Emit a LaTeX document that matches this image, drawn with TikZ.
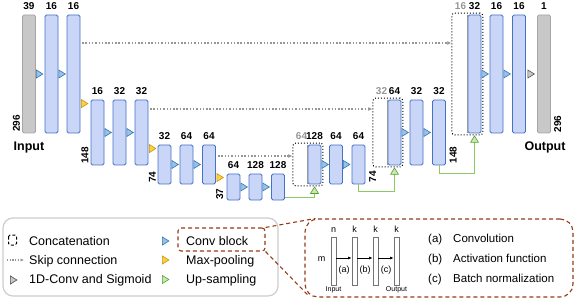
\documentclass[tikz,border=0pt]{standalone}
\usepackage{fontspec}
\setmainfont{Liberation Sans}
\usetikzlibrary{arrows.meta,fit,calc}
\definecolor{barfill}{RGB}{201,214,248}
\definecolor{barline}{RGB}{68,114,196}
\definecolor{grayfill}{RGB}{200,200,200}
\definecolor{grayline}{RGB}{165,165,165}
\definecolor{ctfill}{RGB}{155,194,230}
\definecolor{ctline}{RGB}{46,117,182}
\definecolor{ytfill}{RGB}{255,205,70}
\definecolor{ytline}{RGB}{200,150,0}
\definecolor{gtfill}{RGB}{200,232,175}
\definecolor{gtline}{RGB}{84,160,50}
\definecolor{gline}{RGB}{140,200,100}
\definecolor{skipc}{RGB}{150,150,150}
\definecolor{brownc}{RGB}{150,58,25}
\definecolor{legline}{RGB}{205,205,205}
\newcommand{\trr}[2]{\filldraw[#1] (#2) ++(0.4,-4) -- ++(6.5,4) -- ++(-6.5,4) -- cycle;}
\newcommand{\tru}[2]{\filldraw[#1] (#2) -- ++(4,6.5) -- ++(-8,0) -- cycle;}
\begin{document}
\begin{tikzpicture}[x=1pt,y=-1pt,
  bbar/.style={draw=barline, fill=barfill, line width=0.9pt, rounded corners=1.5pt, minimum width=13pt, inner sep=0pt},
  gbar/.style={draw=grayline, fill=grayfill, line width=0.9pt, rounded corners=1.5pt, minimum width=13pt, inner sep=0pt},
  wbar/.style={minimum width=14pt, inner sep=0pt},
  hA/.style={minimum height=118pt},
  hB/.style={minimum height=65pt},
  hC/.style={minimum height=39pt},
  hD/.style={minimum height=26pt},
  cat/.style={draw=black, dotted, line width=1pt, rounded corners=3pt, inner sep=1.5pt},
  lab/.style={font=\fontsize{10}{12}\selectfont\bfseries, anchor=base, inner sep=0pt},
  glab/.style={lab, text=skipc},
  side/.style={font=\fontsize{10}{12}\selectfont\bfseries, rotate=90, inner sep=0pt},
  io/.style={font=\fontsize{12.5}{15}\selectfont\bfseries, anchor=base, inner sep=0pt},
  ctri/.style={fill=ctfill, draw=ctline, line width=0.6pt},
  ytri/.style={fill=ytfill, draw=ytline, line width=0.6pt},
  gtri/.style={fill=gtfill, draw=gtline, line width=0.6pt},
  ktri/.style={fill=grayfill, draw=black!70, line width=0.6pt},
  skip/.style={draw=skipc, line width=1.4pt, dash pattern=on 1.5pt off 1.8pt, -{Latex[length=4pt,width=4pt]}},
  upline/.style={draw=gline, line width=1pt},
  legtxt/.style={font=\fontsize{12.5}{15}\selectfont, anchor=base west, inner sep=0pt},
  brownline/.style={draw=brownc, line width=1.1pt, dash pattern=on 4pt off 3pt},
  ibar/.style={draw=black!55, fill=white, line width=0.8pt, minimum width=5pt, minimum height=48pt, inner sep=0pt},
  itxt/.style={font=\fontsize{9}{11}\selectfont, inner sep=0pt},
  ismall/.style={font=\fontsize{7}{8}\selectfont, inner sep=0pt},
  iarrow/.style={draw=black, line width=0.8pt, -{Latex[length=3.5pt,width=3pt]}},
  instxt/.style={font=\fontsize{11.5}{14}\selectfont, anchor=base west, inner sep=0pt}
]
\useasboundingbox (0,0) rectangle (575,299);
% ---------------- encoder ----------------
\node[gbar,hA] (in)  at (29,74) {};
\node[bbar,hA] (e12) at (51.5,74) {};
\node[bbar,hA] (e13) at (73.5,74) {};
\node[bbar,hB] (e21) at (97.5,132.5) {};
\node[bbar,hB] (e22) at (119.5,132.5) {};
\node[bbar,hB] (e23) at (141.5,132.5) {};
\node[bbar,hC] (e31) at (164.5,164.5) {};
\node[bbar,hC] (e32) at (186.5,164.5) {};
\node[bbar,hC] (e33) at (209,164.5) {};
\node[bbar,hD] (e41) at (233.5,187) {};
\node[bbar,hD] (e42) at (255.5,187) {};
\node[bbar,hD] (e43) at (278,187) {};
% ---------------- decoder ----------------
\node[wbar,hC] (w3)  at (301.5,164.5) {};
\node[bbar,hC] (d31) at (314.5,164.5) {};
\node[cat, fit=(w3)(d31)] (c3) {};
\draw[draw=black!40, line width=0.9pt] (d31.north west) -- (d31.south west);
\node[bbar,hC] (d32) at (336,164.5) {};
\node[bbar,hC] (d33) at (358.5,164.5) {};
\node[wbar,hB] (w2)  at (381.5,132.5) {};
\node[bbar,hB] (d21) at (394.5,132.5) {};
\node[cat, fit=(w2)(d21)] (c2) {};
\draw[draw=black!40, line width=0.9pt] (d21.north west) -- (d21.south west);
\node[bbar,hB] (d22) at (416.5,132.5) {};
\node[bbar,hB] (d23) at (439,132.5) {};
\node[wbar,hA] (w1)  at (460.5,74) {};
\node[bbar,hA] (d11) at (474.5,74) {};
\node[cat, fit=(w1)(d11)] (c1) {};
\draw[draw=black!40, line width=0.9pt] (d11.north west) -- (d11.south west);
\node[bbar,hA] (d12) at (496.5,74) {};
\node[bbar,hA] (d13) at (519,74) {};
\node[gbar,hA] (out) at (544,74) {};
% ---------------- labels above ----------------
\node[lab] at ([yshift=5.5pt]in.north) {39};
\node[lab] at ([yshift=5.5pt]e12.north) {16};
\node[lab] at ([yshift=5.5pt]e13.north) {16};
\node[lab] at ([yshift=5.5pt]e21.north) {16};
\node[lab] at ([yshift=5.5pt]e22.north) {32};
\node[lab] at ([yshift=5.5pt]e23.north) {32};
\node[lab] at ([yshift=5.5pt]e31.north) {32};
\node[lab] at ([yshift=5.5pt]e32.north) {64};
\node[lab] at ([yshift=5.5pt]e33.north) {64};
\node[lab] at ([yshift=5.5pt]e41.north) {64};
\node[lab] at ([yshift=5.5pt]e42.north) {128};
\node[lab] at ([yshift=5.5pt]e43.north) {128};
\node[glab] at ([yshift=5.5pt]w3.north) {64};
\node[lab] at ([yshift=5.5pt]d31.north) {128};
\node[lab] at ([yshift=5.5pt]d32.north) {64};
\node[lab] at ([yshift=5.5pt]d33.north) {64};
\node[glab] at ([yshift=5.5pt]w2.north) {32};
\node[lab] at ([yshift=5.5pt]d21.north) {64};
\node[lab] at ([yshift=5.5pt]d22.north) {32};
\node[lab] at ([yshift=5.5pt]d23.north) {32};
\node[glab] at ([yshift=5.5pt]w1.north) {16};
\node[lab] at ([yshift=5.5pt]d11.north) {32};
\node[lab] at ([yshift=5.5pt]d12.north) {16};
\node[lab] at ([yshift=5.5pt]d13.north) {16};
\node[lab] at ([yshift=5.5pt]out.north) {1};
% ---------------- side labels ----------------
\node[side, anchor=south west] at ([xshift=-2pt,yshift=1.5pt]in.south west) {296};
\node[side, anchor=south west] at ([xshift=-2pt,yshift=1.5pt]e21.south west) {148};
\node[side, anchor=south west] at ([xshift=-1.5pt,yshift=1.5pt]e31.south west) {74};
\node[side, anchor=south west] at ([xshift=-3pt,yshift=0.5pt]e41.south west) {37};
\node[side, anchor=north west] at ([xshift=3.5pt,yshift=2pt]d33.south east) {74};
\node[side, anchor=north west] at ([xshift=3.5pt,yshift=2pt]d23.south east) {148};
\node[side, anchor=north west] at ([xshift=3pt,yshift=1pt]out.south east) {296};
\node[io] at ($(in.south)+(0,17)$) {Input};
\node[io] at ($(out.south)+(1,17)$) {Output};
% ---------------- skip connections ----------------
\coordinate (s1) at (82,43);
\coordinate (s2) at (150,109);
\coordinate (s3) at (218,156);
\draw[skip] (s1) -- (s1 -| c1.west);
\draw[skip] (s2) -- (s2 -| c2.west);
\draw[skip] (s3) -- (s3 -| c3.west);
% ---------------- up-sampling lines ----------------
\draw[upline] ($(e43.south east)+(0,-3)$) -| ($(d31.south)+(0,9)$);
\draw[upline] (d33.south) -- ++(0,7) -| ($(d21.south)+(0,9)$);
\draw[upline] (d23.south) -- ++(0,8) -| ($(d11.south)+(0,9)$);
\tru{gtri}{$(d31.south)+(0,2.5)$}
\tru{gtri}{$(d21.south)+(0,2.5)$}
\tru{gtri}{$(d11.south)+(0,2.5)$}
% ---------------- conv triangles ----------------
\trr{ctri}{in.east}
\trr{ctri}{e12.east}
\trr{ctri}{e21.east}
\trr{ctri}{e22.east}
\trr{ctri}{e31.east}
\trr{ctri}{e32.east}
\trr{ctri}{e41.east}
\trr{ctri}{e42.east}
\trr{ctri}{d31.east}
\trr{ctri}{d32.east}
\trr{ctri}{d21.east}
\trr{ctri}{d22.east}
\trr{ctri}{d11.east}
\trr{ctri}{d12.east}
\trr{ktri}{$(d13.east)+(1.5,0)$}
% ---------------- max-pooling ----------------
\trr{ytri}{$(e13.east |- e21.north)+(0.5,4)$}
\trr{ytri}{$(e23.east |- e31.north)+(0.5,4)$}
\trr{ytri}{$(e33.east |- e41.north)+(0.5,4)$}
% ---------------- legend ----------------
\draw[draw=legline, line width=1.2pt, rounded corners=10pt] (3,218) rectangle (278,296);
\draw[black, line width=1pt, rounded corners=1.5pt, dash pattern=on 3pt off 2pt] (8.5,235) rectangle (16.5,245);
\node[legtxt] at (29,245.5) {Concatenation};
\coordinate (k1) at (7,260);
\coordinate (k2) at (24,260);
\draw[draw=skipc, line width=1.2pt, dash pattern=on 1.2pt off 1.5pt, -{Latex[length=3.5pt,width=3.5pt]}] (k1) -- (k2);
\node[legtxt] at (29,264.5) {Skip connection};
\trr{ktri}{10,280}
\node[legtxt] at (29,283.5) {1D-Conv and Sigmoid};
\trr{ctri}{162,241}
\trr{ytri}{162,260}
\trr{gtri}{162,279.5}
\node[legtxt] at (186,245.5) {Conv block};
\node[legtxt] at (186,264.5) {Max-pooling};
\node[legtxt] at (186,283.5) {Up-sampling};
\node[draw=brownc, line width=1.1pt, dash pattern=on 4pt off 3pt, rounded corners=3pt, minimum width=87pt, minimum height=23pt, inner sep=0pt] (cb) at (221.5,239.5) {};
% ---------------- inset ----------------
\node[draw=brownc, line width=1.1pt, dash pattern=on 4pt off 3pt, rounded corners=13pt, minimum width=268pt, minimum height=78pt, inner sep=0pt] (ib) at (439,258) {};
\coordinate (ia) at ($(ib.north west)+(11,0)$);
\coordinate (ic) at ($(ib.south west)+(3,-3)$);
\draw[brownline] (cb.north east) -- (ia);
\draw[brownline] (cb.south east) -- (ic);
\node[ibar] (ib1) at (333.5,261) {};
\node[ibar] (ib2) at (354.5,261) {};
\node[ibar] (ib3) at (375.5,261) {};
\node[ibar] (ib4) at (396.5,261) {};
\node[itxt, anchor=base] at ($(ib1.north)+(0,-4)$) {n};
\node[itxt, anchor=base] at ($(ib2.north)+(0,-4)$) {k};
\node[itxt, anchor=base] at ($(ib3.north)+(0,-4)$) {k};
\node[itxt, anchor=base] at ($(ib4.north)+(0,-4)$) {k};
\node[itxt, anchor=east] at ($(ib1.west)+(-5,-2)$) {m};
\draw[iarrow] ($(ib1.east)+(0,-3)$) -- ($(ib2.west)+(0,-3)$);
\draw[iarrow] ($(ib2.east)+(0,-3)$) -- ($(ib3.west)+(0,-3)$);
\draw[iarrow] ($(ib3.east)+(0,-3)$) -- ($(ib4.west)+(0,-3)$);
\node[itxt] at ($(ib1.east)!0.5!(ib2.west)+(0,9)$) {(a)};
\node[itxt] at ($(ib2.east)!0.5!(ib3.west)+(0,9)$) {(b)};
\node[itxt] at ($(ib3.east)!0.5!(ib4.west)+(0,9)$) {(c)};
\node[ismall] at ($(ib1.south)+(0,4.5)$) {Input};
\node[ismall] at ($(ib4.south)+(0,4.5)$) {Output};
\node[instxt] at (428,242) {(a)};
\node[instxt] at (453,242) {Convolution};
\node[instxt] at (428,262) {(b)};
\node[instxt] at (453,262) {Activation function};
\node[instxt] at (428,282) {(c)};
\node[instxt] at (453,282) {Batch normalization};
\end{tikzpicture}
\end{document}
